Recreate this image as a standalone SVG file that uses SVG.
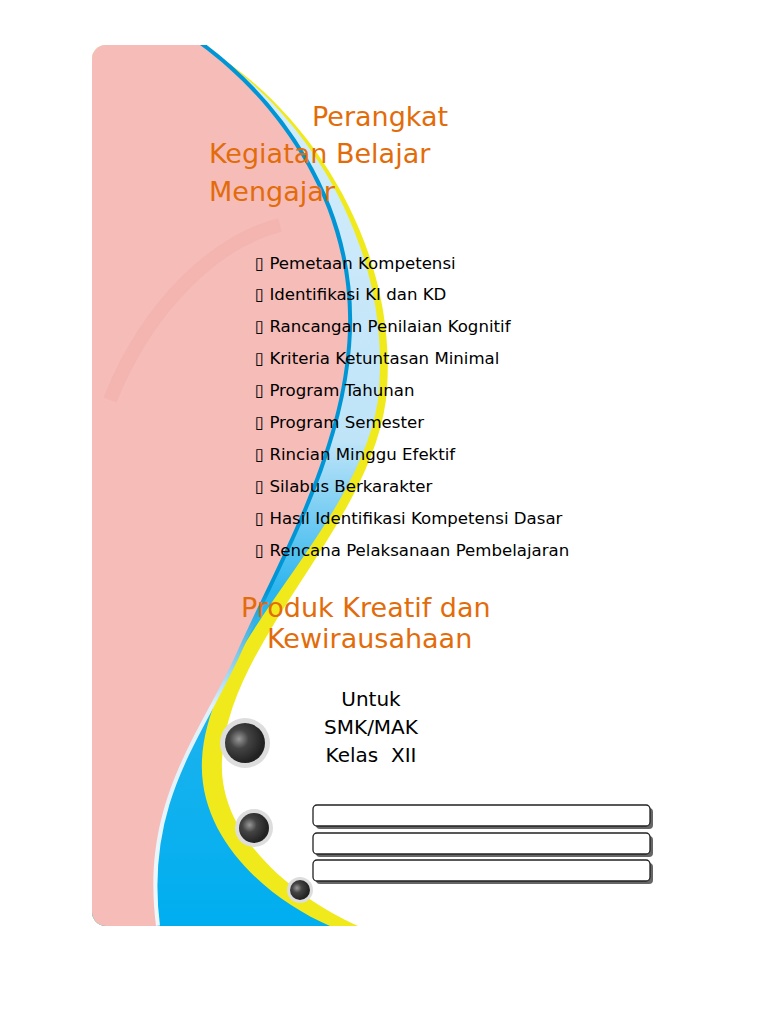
<svg xmlns="http://www.w3.org/2000/svg" width="768" height="1024" viewBox="0 0 768 1024">
<style>
.t{font-family:"DejaVu Sans",sans-serif;fill:#e36c0a;font-size:27px}
.l{font-family:"DejaVu Sans",sans-serif;fill:#000;font-size:16.6px}
.k{font-family:"DejaVu Sans",sans-serif;fill:#000;font-size:20px;text-anchor:middle}
.box{fill:#fff;stroke:#222;stroke-width:1.3}
.sh{fill:#666}
</style>
<defs>
<linearGradient id="bg" x1="0" y1="0" x2="0" y2="1">
<stop offset="0" stop-color="#d6eefb"/><stop offset="0.45" stop-color="#bfe4f8"/><stop offset="0.62" stop-color="#2bb5ee"/><stop offset="1" stop-color="#00aeef"/>
</linearGradient>
<linearGradient id="edge" gradientUnits="userSpaceOnUse" x1="0" y1="45" x2="0" y2="926">
<stop offset="0" stop-color="#0096d6"/><stop offset="0.62" stop-color="#0096d6"/><stop offset="0.75" stop-color="#dff1fb"/><stop offset="1" stop-color="#eef8fc"/>
</linearGradient>
<radialGradient id="ball" cx="0.35" cy="0.4" r="0.6">
<stop offset="0" stop-color="#999"/><stop offset="0.4" stop-color="#444"/><stop offset="1" stop-color="#222"/>
</radialGradient>
<clipPath id="c"><rect x="92" y="45" width="600" height="881" rx="14"/></clipPath>
</defs>
<rect width="768" height="1024" fill="#fff"/>
<g clip-path="url(#c)">
<path d="M92,45 H200 C308,105 402,250 386,400 C368,530 228,640 222,760 C218,840 300,900 358,926 H92 Z" fill="#f0ea1c"/>
<path d="M92,45 H200 C302,105 395,245 378,400 C358,530 208,640 202,760 C198,840 270,900 330,926 H92 Z" fill="url(#bg)"/>
<path d="M200,45 C275,100 352,200 348,330 C344,450 278,560 238,650 C200,735 140,800 156,926" fill="none" stroke="url(#edge)" stroke-width="8"/>
<path d="M92,45 H200 C275,100 352,200 348,330 C344,450 278,560 238,650 C200,735 140,800 156,926 H92 Z" fill="#f6bcb8"/>
<path d="M110,400 C150,300 220,240 280,225" fill="none" stroke="#f3aaa8" stroke-width="14" opacity="0.4"/>
</g>
<g id="balls">
<circle cx="245" cy="743" r="25" fill="#ddd"/><circle cx="245" cy="743" r="20" fill="url(#ball)"/>
<circle cx="254" cy="828" r="19" fill="#ddd"/><circle cx="254" cy="828" r="15" fill="url(#ball)"/>
<circle cx="300" cy="890" r="13" fill="#ddd"/><circle cx="300" cy="890" r="10" fill="url(#ball)"/>
</g>
<g id="boxes">
<rect class="sh" x="316" y="808" width="337" height="21" rx="4"/><rect class="box" x="313" y="805" width="337" height="21" rx="4"/>
<rect class="sh" x="316" y="836" width="337" height="21" rx="4"/><rect class="box" x="313" y="833" width="337" height="21" rx="4"/>
<rect class="sh" x="316" y="863" width="337" height="21" rx="4"/><rect class="box" x="313" y="860" width="337" height="21" rx="4"/>
</g>
<g id="title">
<text class="t" x="312" y="126">Perangkat</text>
<text class="t" x="209" y="163">Kegiatan Belajar</text>
<text class="t" x="209" y="201">Mengajar</text>
</g>
<g id="list">
<text class="l" x="255" y="269">▯ Pemetaan Kompetensi</text>
<text class="l" x="255" y="300">▯ Identifikasi KI dan KD</text>
<text class="l" x="255" y="332">▯ Rancangan Penilaian Kognitif</text>
<text class="l" x="255" y="364">▯ Kriteria Ketuntasan Minimal</text>
<text class="l" x="255" y="396">▯ Program Tahunan</text>
<text class="l" x="255" y="428">▯ Program Semester</text>
<text class="l" x="255" y="460">▯ Rincian Minggu Efektif</text>
<text class="l" x="255" y="492">▯ Silabus Berkarakter</text>
<text class="l" x="255" y="524">▯ Hasil Identifikasi Kompetensi Dasar</text>
<text class="l" x="255" y="556">▯ Rencana Pelaksanaan Pembelajaran</text>
</g>
<g id="subject">
<text class="t" x="241" y="617">Produk Kreatif dan</text>
<text class="t" x="267" y="648">Kewirausahaan</text>
</g>
<g id="grade">
<text class="k" x="371" y="706">Untuk</text>
<text class="k" x="371" y="734">SMK/MAK</text>
<text class="k" x="371" y="762" xml:space="preserve">Kelas  XII</text>
</g>
</svg>
